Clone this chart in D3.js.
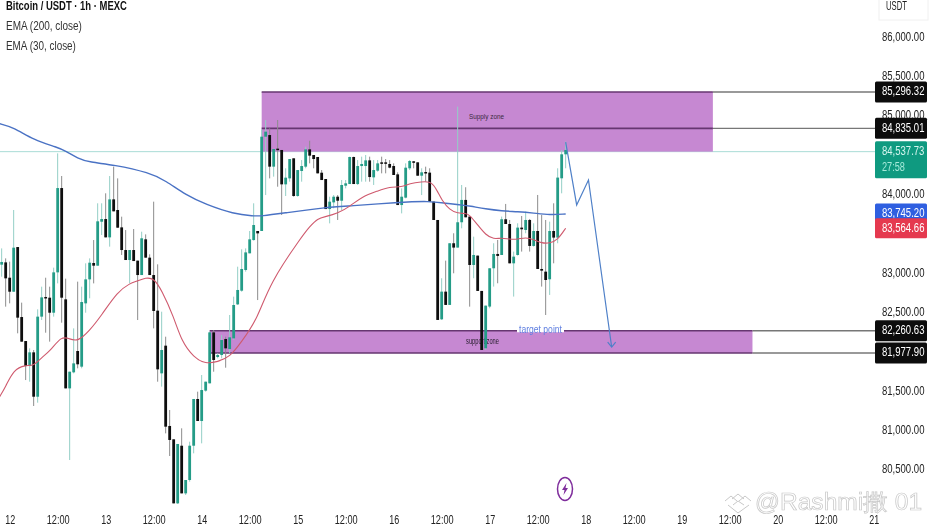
<!DOCTYPE html>
<html>
<head>
<meta charset="utf-8">
<style>
	html, body { margin: 0; padding: 0; background: #fff; overflow: hidden; }
	svg { filter: blur(0.35px); }
	text { font-family: "Liberation Sans", sans-serif; }
</style>
<script src="https://cdn.jsdelivr.net/npm/d3@7"></script>
</head>
<body>
<div id="chart"></div>
<script>
// hourly candles, first one is 11th 22:00
var opens = [83101,83130,82935,82757,83325,82435,82130,81812,81986,81422,82440,82690,82681,82490,83003,84075,82660,81528,81732,82003,81804,82609,82914,83122,83088,83647,83681,83448,83931,83796,83575,83287,83160,83287,83152,82969,83423,83190,82969,82516,81719,82071,81050,80880,80066,80799,80193,80363,80799,81393,81113,81499,81592,82240,81927,81952,82156,82028,82164,82596,82770,83033,83245,83414,83529,83529,
	84728,84749,84347,84576,84559,84122,84198,84453,83974,84292,84347,84567,84495,84470,84270,84190,83808,83893,83965,83914,84105,84126,84470,84126,84355,84355,84427,84211,84296,84402,84402,84381,84355,84249,83859,83953,84326,84415,84402,84232,84279,
	84271,83902,83669,82406,82758,82589,83373,83318,83640,83924,83712,83097,83216,82767,82038,82568,83055,83237,83224,83678,83618,83118,83224,83572,83542,83669,83339,83529,83046,83012,82915,83529,83445,84199,84504];
var highs = [83308,83181,83139,83796,83325,82618,82130,82037,82016,82533,82821,82935,82821,83063,84516,84228,82923,81740,82291,82885,82821,83118,83181,83414,83881,83881,84008,84228,84347,84198,83711,83541,83287,83554,83152,83520,83486,83232,83902,83105,82503,82185,81253,80880,80821,81020,80363,80850,81393,81486,81698,81613,82249,82270,81973,82206,82185,82461,82694,83075,83296,83308,83529,83881,83529,84821,
	84940,84834,84571,84940,84559,84326,84444,84453,84304,84431,84601,84677,84495,84470,84304,84190,83965,83986,83986,84177,84177,84474,84474,84431,84474,84495,84474,84431,84431,84474,84444,84431,84389,84275,84071,84389,84431,84419,84402,84326,84347,
	84326,83902,83669,82928,83152,83373,83500,85110,84114,84085,83712,83457,83216,82767,82580,83055,83373,83415,83712,83873,83669,83267,83627,83720,83775,83682,83627,83987,83733,83669,83648,83881,84326,84559,84665];
var lows = [82948,82567,82609,82757,82228,82122,81634,81613,81304,81346,82397,82236,82122,82440,82863,82363,81528,80617,81719,81783,81783,82490,82673,82863,83088,83478,83448,83330,83779,83571,83224,83160,82863,83147,82397,82969,83190,82969,82291,81613,81550,80956,80668,80066,80058,80193,80172,80342,80702,81113,80829,81486,81592,81740,81910,81910,81791,81973,82143,82588,82757,83012,83245,83406,82651,83529,
	83986,84198,84220,84092,83732,83974,84156,83965,83965,84156,84326,84389,84326,84262,84177,83808,83626,83817,83669,83796,84071,84126,84126,84114,84156,84156,84156,84114,84283,84262,84262,84326,84241,83859,83753,83944,84304,84326,84232,83986,84156,
	83902,83669,82398,82398,82589,82589,82991,83318,83563,83703,82567,82928,82767,82016,82016,82546,82822,82864,83224,83618,83118,82695,83216,83267,83500,83267,83330,83046,82822,82461,82716,83118,83373,84008,84326];
var closes = [83135,82927,82757,83317,82427,82122,81812,81986,81422,82440,82685,82681,82490,83003,84075,82681,81528,81740,81846,81834,82626,82914,83126,83088,83652,83681,83448,83931,83779,83571,83287,83160,83287,83147,82969,83436,83190,82969,82512,81770,82016,81041,80872,80066,80821,80193,80363,80799,81393,81113,81507,81613,82240,81889,81952,82143,82037,82177,82588,82779,83046,83257,83423,83605,83499,84728,
	84792,84347,84571,84559,84122,84207,84444,83974,84304,84355,84567,84487,84444,84262,84177,83808,83902,83965,83914,84114,84135,84470,84126,84355,84381,84427,84215,84304,84389,84389,84385,84334,84241,83859,83965,84334,84419,84402,84232,84275,84266,
	83902,83669,82398,82758,82589,83373,83318,83640,83924,83703,83097,83224,82767,82016,82580,83055,83237,83212,83678,83618,83118,83203,83572,83551,83669,83339,83529,83046,83025,82906,83529,83445,84208,84504,84559];
var firstCandle = Date.UTC(2025, 3, 11, 22);

// EMA readings: candle number, then price
var ema200Idx = [-0.5,3,8,14,16,19,22,28,37,41,46,51,58,63,65,70,81,87,99,107,111,115,117,121,125,129,133,137,141];
var ema200 = [84893,84847,84686,84592,84546,84453,84402,84372,84270,84169,83986,83868,83745,83719,83719,83753,83830,83847,83893,83911,83881,83860,83847,83809,83784,83775,83758,83733,83745.20];
var ema30Idx = [-0.5,1,3,6,8,10,12,15,17,19,22,25,29,32,34,36,38,40,43,45,48,51,54,57,60,64,67,75,77,79,81,84,87,90,94,97,100,102,105,107,108,109,110,112,114,116,117,119,121,123,125,127,129,131,133,135,137,139,141];
var ema30 = [81422,81550,81770,81825,81812,81923,81995,82198,82156,82122,82262,82461,82757,82863,82893,82935,82931,82779,82440,82122,81923,81838,81867,81923,82122,82418,82863,83457,83584,83690,83711,83753,83838,83965,84037,84092,84084,84135,84156,84157,84114,84030,83924,83796,83754,83754,83733,83606,83479,83423,83445,83423,83423,83449,83423,83373,83373,83415,83564.66];

var lastPrice = 84537.73;
var supplyLevels = [85296.32, 84835.01];
var supportLevels = [82260.63, 81977.90];
var priceTicks = [86000,85500,85000,84000,83000,82500,81500,81000,80500];

// drawing on the chart, candle number and price
var pathIdx = [141,143.75,146.7,152.5];
var pathPrice = [84660,83860,84177,82054];

var width = 932, height = 524;

var svg = d3.select("#chart").append("svg")
	.attr("width", width)
	.attr("height", height)
	.style("display", "block");

var x = d3.scaleUtc()
	.domain([Date.UTC(2025, 3, 12), Date.UTC(2025, 3, 21)])
	.range([9.67, 873.67]);
var y = d3.scaleLinear()
	.domain([81000, 86000])
	.range([429.9, 36.65]);

var timeOf = function(i){ return firstCandle + i * 3600000; };
var xi = function(i){ return x(timeOf(i)); };

var fmt = d3.format(",.2f");
var rightEdge = 876;

// the font is wider than the one in the picture, so squeeze each text to a set width
var squeeze = function(sel, w){
	return sel.each(function(d){
		var target = typeof w == "function" ? w(d) : w;
		var ax = +this.getAttribute("x") || 0;
		var s = target / this.getComputedTextLength();
		this.setAttribute("transform", "translate(" + ax + ",0) scale(" + s + ",1) translate(" + (-ax) + ",0)");
	});
};

// price line
svg.append("line")
	.attr("x1", 0).attr("x2", rightEdge)
	.attr("y1", y(lastPrice)).attr("y2", y(lastPrice))
	.attr("stroke", "#a9dcd6").attr("stroke-width", 1);

// zones
var zones = [
	{top: supplyLevels[0], bottom: lastPrice, from: 65, to: 177.8},
	{top: supportLevels[0], bottom: supportLevels[1], from: 52, to: 187.7}
];
svg.selectAll("rect.zone")
	.data(zones)
	.enter()
	.append("rect")
	.attr("class", "zone")
	.attr("x", function(d){ return xi(d.from); })
	.attr("y", function(d){ return y(d.top); })
	.attr("width", function(d){ return xi(d.to) - xi(d.from); })
	.attr("height", function(d){ return y(d.bottom) - y(d.top); })
	.attr("fill", "#c688d2");

// level lines, grey outside the zone and dark purple inside
var levels = [
	{p: supplyLevels[0], from: 65, to: 177.8},
	{p: supplyLevels[1], from: 65, to: 177.8},
	{p: supportLevels[0], from: 52, to: 187.7},
	{p: supportLevels[1], from: 52, to: 187.7}
];
svg.selectAll("line.lvl")
	.data(levels)
	.enter()
	.append("line")
	.attr("class", "lvl")
	.attr("x1", function(d){ return xi(d.to); })
	.attr("x2", rightEdge)
	.attr("y1", function(d){ return y(d.p); })
	.attr("y2", function(d){ return y(d.p); })
	.attr("stroke", "#777")
	.attr("stroke-width", 1.3);
svg.selectAll("line.lvlin")
	.data(levels)
	.enter()
	.append("line")
	.attr("class", "lvlin")
	.attr("x1", function(d){ return xi(d.from); })
	.attr("x2", function(d){ return xi(d.to); })
	.attr("y1", function(d){ return y(d.p); })
	.attr("y2", function(d){ return y(d.p); })
	.attr("stroke", "#663671")
	.attr("stroke-width", 1.7);

// notes inside zones, candles go over them
squeeze(svg.append("text")
	.attr("x", 486.5).attr("y", y(84980) + 0.5)
	.attr("text-anchor", "middle").attr("dominant-baseline", "middle")
	.attr("font-size", 8).attr("fill", "#3a2a3e")
	.text("Supply zone"), 35);
squeeze(svg.append("text")
	.attr("x", 482.5).attr("y", y(82120))
	.attr("text-anchor", "middle").attr("dominant-baseline", "middle")
	.attr("font-size", 8.5).attr("fill", "#2a2030")
	.text("support zone"), 33);

// candles
var idx = d3.range(opens.length);
var isUp = function(i){ return closes[i] >= opens[i]; };

svg.selectAll("line.wick")
	.data(idx)
	.enter()
	.append("line")
	.attr("class", "wick")
	.attr("x1", xi).attr("x2", xi)
	.attr("y1", function(i){ return y(highs[i]); })
	.attr("y2", function(i){ return y(lows[i]); })
	.attr("stroke", function(i){ return isUp(i) ? "#93cfc6" : "#8c8c8c"; })
	.attr("stroke-width", 1);

svg.selectAll("rect.body")
	.data(idx)
	.enter()
	.append("rect")
	.attr("class", "body")
	.attr("x", function(i){ return xi(i) - 1.4; })
	.attr("width", 2.8)
	.attr("y", function(i){ return y(Math.max(opens[i], closes[i])); })
	.attr("height", function(i){ return Math.max(1.5, Math.abs(y(opens[i]) - y(closes[i]))); })
	.attr("fill", function(i){ return isUp(i) ? "#249c87" : "#0e0e0e"; });

// EMAs
var emaLine = function(ids, vals){
	return d3.line()
		.x(function(d, k){ return xi(ids[k]); })
		.y(function(d){ return y(d); })
		.curve(d3.curveBasis)(vals);
};
svg.append("path").attr("d", emaLine(ema200Idx, ema200))
	.attr("fill", "none").attr("stroke", "#4a72c4").attr("stroke-width", 1.4);
svg.append("path").attr("d", emaLine(ema30Idx, ema30))
	.attr("fill", "none").attr("stroke", "#cf5a6e").attr("stroke-width", 1.1);

// hand drawn path with arrow
svg.append("path")
	.attr("d", d3.line()
		.x(function(d, k){ return xi(pathIdx[k]); })
		.y(function(d){ return y(d); })(pathPrice))
	.attr("fill", "none").attr("stroke", "#4f80c8").attr("stroke-width", 1.2);
var tipX = xi(pathIdx[3]), tipY = y(pathPrice[3]);
svg.append("path")
	.attr("d", "M" + (tipX - 4) + "," + (tipY - 5) + "L" + tipX + "," + tipY + "L" + (tipX + 4) + "," + (tipY - 5))
	.attr("fill", "none").attr("stroke", "#4f80c8").attr("stroke-width", 1.2);

// target point label breaks the zone line
svg.append("rect")
	.attr("x", 517).attr("width", 47)
	.attr("y", y(supportLevels[0]) - 1.5).attr("height", 3)
	.attr("fill", "#fff");
squeeze(svg.append("text")
	.attr("x", 540.5).attr("y", y(supportLevels[0]) - 0.5)
	.attr("text-anchor", "middle").attr("dominant-baseline", "middle")
	.attr("font-size", 11).attr("fill", "#5f7fe0")
	.text("target point"), 43);

// axes
var yAxis = d3.axisRight(y).tickValues(priceTicks).tickSize(0).tickPadding(0).tickFormat(fmt);
squeeze(svg.append("g")
	.attr("transform", "translate(882,-0.5)")
	.call(yAxis)
	.call(function(g){ g.select(".domain").remove(); })
	.selectAll("text")
	.attr("font-size", 13)
	.attr("fill", "#222"), 42.5);

var timeTicks = d3.utcHour.range(Date.UTC(2025, 3, 12), Date.UTC(2025, 3, 21, 1), 12);
var xAxis = d3.axisBottom(x).tickValues(timeTicks).tickSize(0).tickPadding(0)
	.tickFormat(function(d){ return d.getUTCHours() == 0 ? d.getUTCDate() : "12:00"; });
squeeze(svg.append("g")
	.attr("transform", "translate(0,515)")
	.call(xAxis)
	.call(function(g){ g.select(".domain").remove(); })
	.selectAll("text")
	.attr("font-size", 12.5)
	.attr("fill", "#222"), function(d){ return d.getUTCHours() == 0 ? 10 : 23; });

// price tags
var tags = [
	{p: supplyLevels[0], bg: "#0c0c0c", h: 21},
	{p: supplyLevels[1], bg: "#0c0c0c", h: 21},
	{p: ema200[ema200.length - 1], bg: "#2f5fe0", h: 21},
	{p: ema30[ema30.length - 1], bg: "#e5394f", h: 20},
	{p: supportLevels[0], bg: "#0c0c0c", h: 21},
	{p: supportLevels[1], bg: "#0c0c0c", h: 21}
];
var tag = svg.selectAll("g.tag")
	.data(tags)
	.enter()
	.append("g")
	.attr("class", "tag")
	.attr("transform", function(d){ return "translate(875," + y(d.p) + ")"; });
tag.append("rect")
	.attr("y", function(d){ return -d.h / 2; })
	.attr("width", 52).attr("height", function(d){ return d.h; })
	.attr("rx", 1.5)
	.attr("fill", function(d){ return d.bg; });
squeeze(tag.append("text")
	.attr("x", 7).attr("dominant-baseline", "middle")
	.attr("font-size", 13).attr("fill", "#fff")
	.text(function(d){ return fmt(d.p); }), 42.5);

// last price tag with countdown
svg.append("rect")
	.attr("x", 875).attr("y", y(lastPrice) - 10.5)
	.attr("width", 52).attr("height", 37).attr("rx", 1.5)
	.attr("fill", "#0f9a80");
squeeze(svg.append("text")
	.attr("x", 882).attr("y", y(lastPrice))
	.attr("dominant-baseline", "middle")
	.attr("font-size", 13).attr("fill", "#d5f5ee")
	.text(fmt(lastPrice)), 42.5);
squeeze(svg.append("text")
	.attr("x", 882).attr("y", y(lastPrice) + 16)
	.attr("dominant-baseline", "middle")
	.attr("font-size", 13).attr("fill", "#a5ead9")
	.text("27:58"), 23);

// currency box
svg.append("rect")
	.attr("x", 879).attr("y", -2).attr("width", 49).attr("height", 22)
	.attr("fill", "#fff").attr("stroke", "#f0f0f0");
squeeze(svg.append("text")
	.attr("x", 886).attr("y", 7)
	.attr("dominant-baseline", "middle")
	.attr("font-size", 12.5).attr("fill", "#222")
	.text("USDT"), 21);

// legend
squeeze(svg.append("text").attr("x", 6).attr("y", 7)
	.attr("dominant-baseline", "middle")
	.attr("font-size", 13).attr("font-weight", "bold").attr("fill", "#111")
	.text("Bitcoin / USDT · 1h · MEXC"), 121);
squeeze(svg.append("text").attr("x", 6).attr("y", 27)
	.attr("dominant-baseline", "middle")
	.attr("font-size", 13).attr("fill", "#333")
	.text("EMA (200, close)"), 76);
squeeze(svg.append("text").attr("x", 6).attr("y", 47)
	.attr("dominant-baseline", "middle")
	.attr("font-size", 13).attr("fill", "#333")
	.text("EMA (30, close)"), 70);

// flash icon
var flash = svg.append("g").attr("transform", "translate(565,489)");
flash.append("ellipse")
	.attr("rx", 7.5).attr("ry", 11.5)
	.attr("fill", "#fff").attr("stroke", "#7f2d9c").attr("stroke-width", 1.5);
flash.append("path")
	.attr("d", "M1.5,-6 L-3,1 L-0.5,1 L-1.5,6 L3,-1 L0.5,-1 Z")
	.attr("fill", "#7f2d9c");

// watermark
var wm = svg.append("g").attr("fill", "none").attr("stroke", "#c8c8c8").attr("stroke-width", 1);
wm.append("path").attr("d", "M725,501 L731,496 L737,501 M732,499 L738,494 L744,499 M739,501 L745,496 L751,501");
wm.append("path").attr("d", "M728,505 L738,513 L749,505 M733,505 L738,501 L744,505");
squeeze(svg.append("text")
	.attr("x", 755).attr("y", 510)
	.attr("font-size", 23)
	.attr("fill", "none").attr("stroke", "#c8c8c8").attr("stroke-width", 0.7)
	.text("@Rashmi撒 01"), 167);
</script>
</body>
</html>
